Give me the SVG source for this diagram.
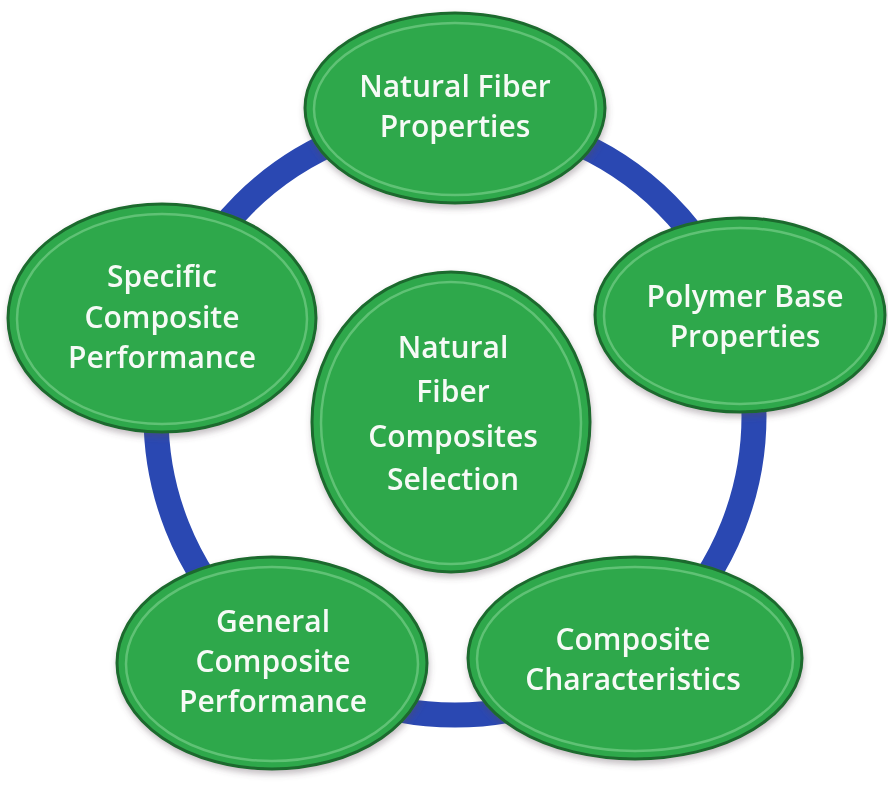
<svg xmlns="http://www.w3.org/2000/svg" width="888" height="805" viewBox="0 0 888 805">
<defs>
<filter id="sh" x="-10%" y="-10%" width="120%" height="125%">
<feGaussianBlur in="SourceAlpha" stdDeviation="3"/>
<feOffset dx="1" dy="4" result="b"/>
<feFlood flood-color="#5a4a55" flood-opacity="0.35"/>
<feComposite in2="b" operator="in"/>
<feMerge><feMergeNode/><feMergeNode in="SourceGraphic"/></feMerge>
</filter>
</defs>
<style>
.node{fill:#2fa84b;stroke:#1c6a2e;stroke-width:3}
.rim{fill:none;stroke:#8fdca0;stroke-width:2.5;opacity:0.5}
.t{font-family:"Open Sans","Noto Sans",sans-serif;font-size:30px;font-weight:600;fill:#f6faf6;text-anchor:middle}
.ring{fill:none;stroke:#2a48b2;stroke-width:25}
</style>
<rect width="888" height="805" fill="#ffffff"/>
<g id="connectors">
<circle class="ring" cx="455" cy="416" r="299"/>
</g>
<g id="n-top" filter="url(#sh)">
<ellipse class="node" cx="455" cy="108" rx="150" ry="95"/>
<ellipse class="rim" cx="455" cy="109" rx="141" ry="86"/>
<text class="t" x="455" y="97">Natural Fiber</text>
<text class="t" x="455" y="137">Properties</text>
</g>
<g id="n-right" filter="url(#sh)">
<ellipse class="node" cx="740" cy="315" rx="145" ry="97"/>
<ellipse class="rim" cx="740" cy="316" rx="136" ry="88"/>
<text class="t" x="745" y="307">Polymer Base</text>
<text class="t" x="745" y="347">Properties</text>
</g>
<g id="n-left" filter="url(#sh)">
<ellipse class="node" cx="162" cy="318" rx="154" ry="114"/>
<ellipse class="rim" cx="162" cy="319" rx="145" ry="105"/>
<text class="t" x="162" y="287">Specific</text>
<text class="t" x="162" y="328">Composite</text>
<text class="t" x="162" y="368">Performance</text>
</g>
<g id="n-bottom-left" filter="url(#sh)">
<ellipse class="node" cx="272" cy="663" rx="155" ry="106"/>
<ellipse class="rim" cx="272" cy="664" rx="146" ry="97"/>
<text class="t" x="273" y="632">General</text>
<text class="t" x="273" y="672">Composite</text>
<text class="t" x="273" y="712">Performance</text>
</g>
<g id="n-bottom-right" filter="url(#sh)">
<ellipse class="node" cx="635" cy="658" rx="167" ry="101"/>
<ellipse class="rim" cx="635" cy="659" rx="158" ry="92"/>
<text class="t" x="633" y="650">Composite</text>
<text class="t" x="633" y="690">Characteristics</text>
</g>
<g id="n-center" filter="url(#sh)">
<ellipse class="node" cx="451" cy="422" rx="139" ry="150"/>
<ellipse class="rim" cx="451" cy="423" rx="130" ry="141"/>
<text class="t" x="453" y="358">Natural</text>
<text class="t" x="453" y="402">Fiber</text>
<text class="t" x="453" y="447">Composites</text>
<text class="t" x="453" y="490">Selection</text>
</g>
</svg>
